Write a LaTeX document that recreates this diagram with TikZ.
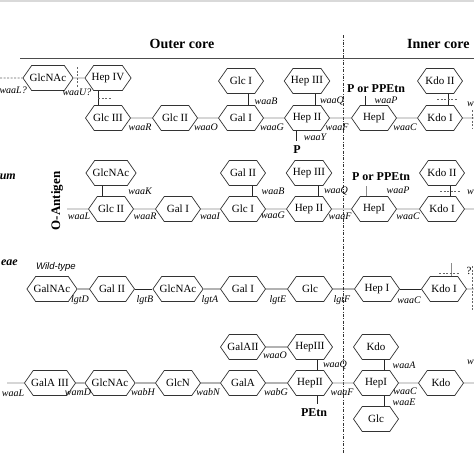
\documentclass[tikz,border=0pt]{standalone}
\usepackage{fontspec}
\setmainfont{Liberation Serif}
\setsansfont{Liberation Sans}
\usepackage{tikz}
\usetikzlibrary{shapes.symbols}

\begin{document}
\begin{tikzpicture}[x=1pt,y=-1pt,
    sugar/.style={shape=signal,signal to=east and west,signal pointer angle=110,
        draw=black!80,line width=0.7pt,fill=white,minimum width=45pt,minimum height=25pt,
        inner xsep=-2pt,inner ysep=0pt,font=\fontsize{11}{12}\selectfont},
    gene/.style={font=\fontsize{10}{11}\selectfont\itshape,inner sep=0pt},
    mod/.style={font=\fontsize{12}{14}\selectfont\bfseries,inner sep=0pt},
    link/.style={draw=black!45,line width=0.8pt},
    vlink/.style={draw=black!85,line width=0.9pt},
    cut/.style={draw=black!60,line width=0.6pt,dashed,dash pattern=on 2pt off 1.5pt}]
        \useasboundingbox (0,0) rectangle (474,474);
        \fill[black!15] (0,0) rectangle (474,2);

        % Headings
        \node[font=\fontsize{14}{16}\selectfont\bfseries] (outer) at (182,44) {Outer core};
        \node[font=\fontsize{14}{16}\selectfont\bfseries,anchor=east] (inner) at (473,44) {Inner core};
        \coordinate (hl) at (20,58);
        \coordinate (hr) at (474,58);
        \draw[black!70,line width=1pt] (hl) -- (hr);
        \coordinate (sepTop) at (343,35);
        \coordinate (sepBot) at (343,453);
        \draw[black!80,line width=0.6pt,dash pattern=on 3pt off 1.5pt on 0.8pt off 1.5pt] (sepTop) -- (sepBot);

        % ================== Row 1 ==================
        \node[sugar] (r1glcnac) at (48,78) {GlcNAc};
        \node[sugar] (r1hepIV) at (108,78) {Hep IV};
        \node[sugar] (r1glcIII) at (108,118) {Glc III};
        \node[sugar] (r1glcII) at (175,118) {Glc II};
        \node[sugar] (r1galI) at (241,118) {Gal I};
        \node[sugar] (r1glcI) at (241,81) {Glc I};
        \node[sugar] (r1hepII) at (307,118) {Hep II};
        \node[sugar] (r1hepIII) at (307,81) {Hep III};
        \node[sugar] (r1hepI) at (374,118) {HepI};
        \node[sugar] (r1kdoI) at (440,118) {Kdo I};
        \node[sugar] (r1kdoII) at (440,81) {Kdo II};

        % Row 1 free ends
        \coordinate (r1in) at (0,78);
        \coordinate (r1out) at (474,118);
        \coordinate (r1up) at (77,67);
        \coordinate (r1dn) at (77,87);
        \coordinate (r1hl) at (98,98);
        \coordinate (r1hr) at (111,98);
        \coordinate (r1p) at (296,141);
        \coordinate (r1pp) at (365,96);
        \coordinate (r1kl) at (437,99);
        \coordinate (r1kr) at (458,99);
        \coordinate (r1et) at (472,110);
        \coordinate (r1eb) at (472,128);

        % Row 1 arcs
        \draw[cut] (r1in) -- (r1glcnac);
        \draw[link] (r1glcnac) -- (r1hepIV);
        \draw[cut] (r1up) -- (r1dn);
        \draw[vlink] ([xshift=-10pt]r1hepIV.south) -- ([xshift=-10pt]r1glcIII.north);
        \draw[cut] (r1hl) -- (r1hr);
        \draw[link] (r1glcIII) -- (r1glcII);
        \draw[link] (r1glcII) -- (r1galI);
        \draw[link] (r1galI) -- (r1hepII);
        \draw[link] (r1hepII) -- (r1hepI);
        \draw[link] (r1hepI) -- (r1kdoI);
        \draw[link] (r1kdoI) -- (r1out);
        \draw[cut] (r1et) -- (r1eb);
        \draw[vlink] ([xshift=7pt]r1galI.north) -- ([xshift=7pt]r1glcI.south);
        \draw[vlink] ([xshift=8pt]r1hepII.north) -- ([xshift=8pt]r1hepIII.south);
        \draw[vlink] ([xshift=-11pt]r1hepII.south) -- (r1p);
        \draw[vlink] (r1pp) -- (r1pp |- r1hepI.north);
        \draw[vlink] ([xshift=8pt]r1kdoI.north) -- ([xshift=8pt]r1kdoII.south);
        \draw[cut] (r1kl) -- (r1kr);

        % Row 1 labels
        \node[gene,anchor=east] (g1waaL) at (27,90) {waaL?};
        \node[gene] (g1waaU) at (77,92) {waaU?};
        \node[gene] (g1waaR) at (140,127) {waaR};
        \node[gene] (g1waaO) at (206,127) {waaO};
        \node[gene] (g1waaB) at (266,101) {waaB};
        \node[gene] (g1waaG) at (272,127) {waaG};
        \node[gene] (g1waaQ) at (332,101) {waaQ};
        \node[gene] (g1waaY) at (315,137) {waaY};
        \node[gene] (g1waaF) at (337,127) {waaF};
        \node[gene] (g1waaP) at (386,100) {waaP};
        \node[gene] (g1waaC) at (405,127) {waaC};
        \node[gene,anchor=east] (g1w) at (474,104) {w};
        \node[mod] (m1p) at (297,150) {P};
        \node[mod] (m1pp) at (376,89) {P or PPEtn};

        % ================== Row 2 ==================
        \node[font=\fontsize{12}{14}\selectfont\bfseries\itshape,anchor=east,inner sep=0pt] (sp2) at (16,177) {um};
        \node[font=\fontsize{13}{15}\selectfont\bfseries,rotate=90] (oant) at (57,201) {O-Antigen};
        \node[sugar] (r2glcnac) at (111,173) {GlcNAc};
        \node[sugar] (r2glcII) at (111,209) {Glc II};
        \node[sugar] (r2galI) at (178,209) {Gal I};
        \node[sugar] (r2glcI) at (243,209) {Glc I};
        \node[sugar] (r2galII) at (243,173) {Gal II};
        \node[sugar] (r2hepII) at (309,209) {Hep II};
        \node[sugar] (r2hepIII) at (309,173) {Hep III};
        \node[sugar] (r2hepI) at (374,209) {HepI};
        \node[sugar] (r2kdoI) at (442,209) {Kdo I};
        \node[sugar] (r2kdoII) at (442,173) {Kdo II};

        % Row 2 free ends
        \coordinate (r2in) at (67,209);
        \coordinate (r2out) at (474,209);
        \coordinate (r2pp) at (366,186);
        \coordinate (r2kl) at (440,191);
        \coordinate (r2kr) at (460,191);

        % Row 2 arcs
        \draw[link] (r2in) -- (r2glcII);
        \draw[link] (r2glcII) -- (r2galI);
        \draw[link] (r2galI) -- (r2glcI);
        \draw[link] (r2glcI) -- (r2hepII);
        \draw[link] (r2hepII) -- (r2hepI);
        \draw[link] (r2hepI) -- (r2kdoI);
        \draw[link] (r2kdoI) -- (r2out);
        \draw[vlink] ([xshift=-9pt]r2glcII.north) -- ([xshift=-9pt]r2glcnac.south);
        \draw[vlink] ([xshift=9pt]r2glcI.north) -- ([xshift=9pt]r2galII.south);
        \draw[vlink] ([xshift=9pt]r2hepII.north) -- ([xshift=9pt]r2hepIII.south);
        \draw[link] (r2pp) -- (r2pp |- r2hepI.north);
        \draw[vlink] ([xshift=8pt]r2kdoI.north) -- ([xshift=8pt]r2kdoII.south);
        \draw[cut] (r2kl) -- (r2kr);

        % Row 2 labels
        \node[gene] (g2waaL) at (79,216) {waaL};
        \node[gene] (g2waaK) at (140,191) {waaK};
        \node[gene] (g2waaR) at (145,216) {waaR};
        \node[gene] (g2waaI) at (210,216) {waaI};
        \node[gene] (g2waaB) at (273,191) {waaB};
        \node[gene] (g2waaG) at (273,215) {waaG};
        \node[gene] (g2waaQ) at (336,191) {waaQ};
        \node[gene] (g2waaF) at (340,216) {waaF};
        \node[gene] (g2waaP) at (398,190) {waaP};
        \node[gene] (g2waaC) at (408,216) {waaC};
        \node[gene,anchor=east] (g2w) at (474,192) {w};
        \node[mod] (m2pp) at (381,177) {P or PPEtn};

        % ================== Row 3 ==================
        \node[font=\fontsize{12}{14}\selectfont\bfseries\itshape,anchor=east,inner sep=0pt] (sp3) at (18,263) {eae};
        \node[font=\fontsize{9.5}{11}\selectfont\sffamily\itshape] (wt) at (56,267) {Wild-type};
        \node[sugar] (r3galnac) at (52,289) {GalNAc};
        \node[sugar] (r3galII) at (112,289) {Gal II};
        \node[sugar] (r3glcnac) at (178,289) {GlcNAc};
        \node[sugar] (r3galI) at (243,289) {Gal I};
        \node[sugar] (r3glc) at (310,289) {Glc};
        \node[sugar] (r3hepI) at (377,289) {Hep I};
        \node[sugar] (r3kdoI) at (444,289) {Kdo I};

        % Row 3 free ends
        \coordinate (r3out) at (474,289);
        \coordinate (r3et) at (472,266);
        \coordinate (r3eb) at (472,310);
        \coordinate (r3kt) at (451,263);
        \coordinate (r3kl) at (439,273);
        \coordinate (r3kr) at (459,273);

        % Row 3 arcs
        \draw[vlink] (r3galnac) -- (r3galII);
        \draw[vlink] (r3galII) -- (r3glcnac);
        \draw[vlink] (r3glcnac) -- (r3galI);
        \draw[vlink] (r3galI) -- (r3glc);
        \draw[vlink] (r3glc) -- (r3hepI);
        \draw[vlink] (r3hepI) -- (r3kdoI);
        \draw[link] (r3kdoI) -- (r3out);
        \draw[cut] (r3et) -- (r3eb);
        \draw[link] (r3kt) -- (r3kt |- r3kdoI.north);
        \draw[cut] (r3kl) -- (r3kr);

        % Row 3 labels
        \node[gene] (g3lgtD) at (80,300) {lgtD};
        \node[gene] (g3lgtB) at (145,300) {lgtB};
        \node[gene] (g3lgtA) at (210,300) {lgtA};
        \node[gene] (g3lgtE) at (278,300) {lgtE};
        \node[gene] (g3lgtF) at (342,300) {lgtF};
        \node[gene] (g3waaC) at (409,300) {waaC};
        \node[font=\fontsize{11}{12}\selectfont,inner sep=0pt] (g3q) at (469,271) {?};

        % ================== Row 4 ==================
        \node[sugar] (r4galaIII) at (50,383) {GalA III};
        \node[sugar] (r4glcnac) at (110,383) {GlcNAc};
        \node[sugar] (r4glcn) at (178,383) {GlcN};
        \node[sugar] (r4gala) at (243,383) {GalA};
        \node[sugar] (r4galaII) at (243,347) {GalAII};
        \node[sugar] (r4hepII) at (310,383) {HepII};
        \node[sugar] (r4hepIII) at (310,347) {HepIII};
        \node[sugar] (r4kdoA) at (376,347) {Kdo};
        \node[sugar] (r4hepI) at (376,383) {HepI};
        \node[sugar] (r4glc) at (376,419) {Glc};
        \node[sugar] (r4kdo) at (441,383) {Kdo};

        % Row 4 free ends
        \coordinate (r4in) at (7,383);
        \coordinate (r4out) at (474,383);
        \coordinate (r4pe) at (317,404);

        % Row 4 arcs
        \draw[link] (r4in) -- (r4galaIII);
        \draw[vlink] (r4galaIII) -- (r4glcnac);
        \draw[vlink] (r4glcnac) -- (r4glcn);
        \draw[vlink] (r4glcn) -- (r4gala);
        \draw[vlink] (r4gala) -- (r4hepII);
        \draw[vlink] (r4galaII) -- (r4hepIII);
        \draw[link] (r4hepII) -- (r4hepI);
        \draw[link] (r4hepI) -- (r4kdo);
        \draw[link] (r4kdo) -- (r4out);
        \draw[vlink] ([xshift=7pt]r4hepII.north) -- ([xshift=7pt]r4hepIII.south);
        \draw[vlink] ([xshift=7pt]r4hepII.south) -- (r4pe);
        \draw[vlink] ([xshift=8pt]r4hepI.north) -- ([xshift=8pt]r4kdoA.south);
        \draw[vlink] ([xshift=8pt]r4hepI.south) -- ([xshift=8pt]r4glc.north);

        % Row 4 labels
        \node[gene] (g4waaL) at (13,393) {waaL};
        \node[gene] (g4wamD) at (78,392) {wamD};
        \node[gene] (g4wabH) at (143,392) {wabH};
        \node[gene] (g4wabN) at (208,392) {wabN};
        \node[gene] (g4wabG) at (276,392) {wabG};
        \node[gene] (g4waaO) at (275,355) {waaO};
        \node[gene] (g4waaQ) at (335,365) {waaQ};
        \node[gene] (g4waaF) at (342,392) {waaF};
        \node[gene] (g4waaA) at (404,365) {waaA};
        \node[gene] (g4waaC) at (405,391) {waaC};
        \node[gene] (g4waaE) at (404,402) {waaE};
        \node[gene,anchor=east] (g4w) at (474,362) {w};
        \node[mod] (m4pe) at (314,413) {PEtn};
    \end{tikzpicture}
\end{document}
